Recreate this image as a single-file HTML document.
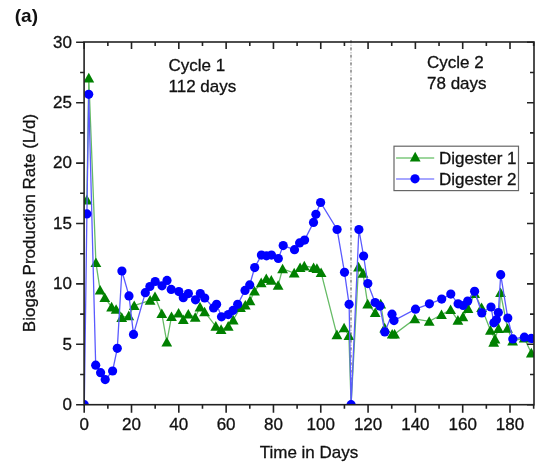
<!DOCTYPE html>
<html><head><meta charset="utf-8"><style>
html,body{margin:0;padding:0;background:#fff;}
svg{display:block;font-family:"Liberation Sans",Arial,sans-serif;}
.t{stroke:#111;stroke-width:0.3px;}
</style></head><body>
<svg width="550" height="475" viewBox="0 0 550 475">
<rect width="550" height="475" fill="#fff"/>
<defs><clipPath id="pa"><rect x="84.1" y="42.0" width="449.9" height="362.7"/></clipPath></defs>
<text x="14.8" y="22.3" font-size="19" font-weight="bold" fill="#111">(a)</text>
<line x1="351" y1="42.0" x2="351" y2="404.7" stroke="#c4c4c4" stroke-width="1.4" stroke-dasharray="1.6,0.9"/>
<line x1="351" y1="40.3" x2="351" y2="404.7" stroke="#7a7a7a" stroke-width="1.4" stroke-dasharray="2,5.5"/>
<g clip-path="url(#pa)">
<polyline points="86.9,200 88.8,78 95.9,262.6 100.1,290.1 104.8,297.6 111.6,307 116.1,309.4 121.7,317.5 128.8,315.8 134.2,305.6 150.1,300.3 155,296.7 161.8,313.7 166.8,342.1 171.5,316.7 178.6,313.1 183.3,319.7 188.3,314.2 195.2,317.4 200,307 204.6,311.9 215.8,326.3 221.1,329.5 228.2,326.3 233.2,320 240.5,307.5 245.3,305.2 250,300.8 254.5,291.2 261.2,282.8 266.3,278.6 271.3,280.3 278.1,285.4 282.6,268.9 294.2,273 300.1,267.7 304.3,266 313.6,267.7 316.9,268.5 321.1,272.7 336.9,334.8 344.1,327.9 348.9,335.7 351.1,404.7 358.5,267 363,273.3 367.7,304 375.2,312.6 380.7,304 384.7,328 392.2,334.1 394.6,334.1 414.8,318.9 429.2,321.4 441.5,314.7 450.6,309.7 457.9,320.3 462.9,316.9 468,308.5 474.7,293.7 481.6,307.7 490.4,330.3 495,339 493.7,342.3 498.5,328.6 500.5,292.6 507.5,328.4 512.6,341 524.2,338 531.3,353" fill="none" stroke="#66bb66" stroke-width="1.3"/>
<g fill="#008000"><polygon points="81.5,204.4 92.3,204.4 86.9,194.8"/><polygon points="83.4,82.4 94.2,82.4 88.8,72.8"/><polygon points="90.5,267.0 101.3,267.0 95.9,257.4"/><polygon points="94.7,294.5 105.5,294.5 100.1,284.9"/><polygon points="99.4,302.0 110.2,302.0 104.8,292.4"/><polygon points="106.2,311.4 117.0,311.4 111.6,301.8"/><polygon points="110.7,313.8 121.5,313.8 116.1,304.2"/><polygon points="116.3,321.9 127.1,321.9 121.7,312.3"/><polygon points="123.4,320.2 134.2,320.2 128.8,310.6"/><polygon points="128.8,310.0 139.6,310.0 134.2,300.4"/><polygon points="144.7,304.7 155.5,304.7 150.1,295.1"/><polygon points="149.6,301.1 160.4,301.1 155.0,291.5"/><polygon points="156.4,318.1 167.2,318.1 161.8,308.5"/><polygon points="161.4,346.5 172.2,346.5 166.8,336.9"/><polygon points="166.1,321.1 176.9,321.1 171.5,311.5"/><polygon points="173.2,317.5 184.0,317.5 178.6,307.9"/><polygon points="177.9,324.1 188.7,324.1 183.3,314.5"/><polygon points="182.9,318.6 193.7,318.6 188.3,309.0"/><polygon points="189.8,321.8 200.6,321.8 195.2,312.2"/><polygon points="194.6,311.4 205.4,311.4 200.0,301.8"/><polygon points="199.2,316.3 210.0,316.3 204.6,306.7"/><polygon points="210.4,330.7 221.2,330.7 215.8,321.1"/><polygon points="215.7,333.9 226.5,333.9 221.1,324.3"/><polygon points="222.8,330.7 233.6,330.7 228.2,321.1"/><polygon points="227.8,324.4 238.6,324.4 233.2,314.8"/><polygon points="235.1,311.9 245.9,311.9 240.5,302.3"/><polygon points="239.9,309.6 250.7,309.6 245.3,300.0"/><polygon points="244.6,305.2 255.4,305.2 250.0,295.6"/><polygon points="249.1,295.6 259.9,295.6 254.5,286.0"/><polygon points="255.8,287.2 266.6,287.2 261.2,277.6"/><polygon points="260.9,283.0 271.7,283.0 266.3,273.4"/><polygon points="265.9,284.7 276.7,284.7 271.3,275.1"/><polygon points="272.7,289.8 283.5,289.8 278.1,280.2"/><polygon points="277.2,273.3 288.0,273.3 282.6,263.7"/><polygon points="288.8,277.4 299.6,277.4 294.2,267.8"/><polygon points="294.7,272.1 305.5,272.1 300.1,262.5"/><polygon points="298.9,270.4 309.7,270.4 304.3,260.8"/><polygon points="308.2,272.1 319.0,272.1 313.6,262.5"/><polygon points="311.5,272.9 322.3,272.9 316.9,263.3"/><polygon points="315.7,277.1 326.5,277.1 321.1,267.5"/><polygon points="331.5,339.2 342.3,339.2 336.9,329.6"/><polygon points="338.7,332.3 349.5,332.3 344.1,322.7"/><polygon points="343.5,340.1 354.3,340.1 348.9,330.5"/><polygon points="345.7,409.1 356.5,409.1 351.1,399.5"/><polygon points="353.1,271.4 363.9,271.4 358.5,261.8"/><polygon points="357.6,277.7 368.4,277.7 363.0,268.1"/><polygon points="362.3,308.4 373.1,308.4 367.7,298.8"/><polygon points="369.8,317.0 380.6,317.0 375.2,307.4"/><polygon points="375.3,308.4 386.1,308.4 380.7,298.8"/><polygon points="379.3,332.4 390.1,332.4 384.7,322.8"/><polygon points="386.8,338.5 397.6,338.5 392.2,328.9"/><polygon points="389.2,338.5 400.0,338.5 394.6,328.9"/><polygon points="409.4,323.3 420.2,323.3 414.8,313.7"/><polygon points="423.8,325.8 434.6,325.8 429.2,316.2"/><polygon points="436.1,319.1 446.9,319.1 441.5,309.5"/><polygon points="445.2,314.1 456.0,314.1 450.6,304.5"/><polygon points="452.5,324.7 463.3,324.7 457.9,315.1"/><polygon points="457.5,321.3 468.3,321.3 462.9,311.7"/><polygon points="462.6,312.9 473.4,312.9 468.0,303.3"/><polygon points="469.3,298.1 480.1,298.1 474.7,288.5"/><polygon points="476.2,312.1 487.0,312.1 481.6,302.5"/><polygon points="485.0,334.7 495.8,334.7 490.4,325.1"/><polygon points="489.6,343.4 500.4,343.4 495.0,333.8"/><polygon points="488.3,346.7 499.1,346.7 493.7,337.1"/><polygon points="493.1,333.0 503.9,333.0 498.5,323.4"/><polygon points="495.1,297.0 505.9,297.0 500.5,287.4"/><polygon points="502.1,332.8 512.9,332.8 507.5,323.2"/><polygon points="507.2,345.4 518.0,345.4 512.6,335.8"/><polygon points="518.8,342.4 529.6,342.4 524.2,332.8"/><polygon points="525.9,357.4 536.7,357.4 531.3,347.8"/></g>
<polyline points="84.3,404.7 86.9,213.9 88.7,94.30000000000001 95.7,365.2 100.60000000000001,372.7 105.2,379.59999999999997 112.60000000000001,371.0 117.3,348.29999999999995 121.9,271.0 129.0,295.9 133.5,334.4 145.29999999999998,292.7 149.89999999999998,286.5 155.2,281.5 162.0,285.79999999999995 167.0,280.4 171.2,289.4 178.79999999999998,291.59999999999997 183.29999999999998,297.7 188.39999999999998,293.59999999999997 195.5,299.79999999999995 200.29999999999998,293.5 204.7,298.0 213.6,307.9 216.6,304.29999999999995 221.5,316.79999999999995 228.29999999999998,314.59999999999997 233.0,310.4 237.7,304.29999999999995 245.0,290.4 249.7,284.9 254.7,267.59999999999997 261.4,255.1 266.5,255.8 271.5,255.1 278.3,258.5 283.2,245.6 294.5,249.70000000000002 299.59999999999997,242.9 304.59999999999997,240.1 313.5,222.4 315.9,214.3 320.59999999999997,202.5 337.09999999999997,229.5 344.5,272.29999999999995 349.09999999999997,304.29999999999995 351.1,404.7 358.9,229.5 363.59999999999997,256.0 367.8,283.59999999999997 375.09999999999997,302.5 379.9,306.09999999999997 384.8,331.9 392.0,314.2 394.0,320.59999999999997 415.5,309.2 429.4,303.79999999999995 441.7,299.09999999999997 450.8,294.09999999999997 458.09999999999997,303.79999999999995 463.09999999999997,305.5 467.7,301.09999999999997 474.59999999999997,291.29999999999995 481.8,312.9 491.0,307.0 493.9,322.79999999999995 496.4,319.79999999999995 498.3,312.5 500.7,274.7 507.8,318.0 512.8000000000001,338.9 524.4000000000001,337.2 531.3000000000001,338.4" fill="none" stroke="#5a5aff" stroke-width="1.3"/>
<g fill="#0000ff"><circle cx="84.3" cy="404.7" r="4.6"/><circle cx="86.9" cy="213.9" r="4.6"/><circle cx="88.7" cy="94.30000000000001" r="4.6"/><circle cx="95.7" cy="365.2" r="4.6"/><circle cx="100.60000000000001" cy="372.7" r="4.6"/><circle cx="105.2" cy="379.59999999999997" r="4.6"/><circle cx="112.60000000000001" cy="371.0" r="4.6"/><circle cx="117.3" cy="348.29999999999995" r="4.6"/><circle cx="121.9" cy="271.0" r="4.6"/><circle cx="129.0" cy="295.9" r="4.6"/><circle cx="133.5" cy="334.4" r="4.6"/><circle cx="145.29999999999998" cy="292.7" r="4.6"/><circle cx="149.89999999999998" cy="286.5" r="4.6"/><circle cx="155.2" cy="281.5" r="4.6"/><circle cx="162.0" cy="285.79999999999995" r="4.6"/><circle cx="167.0" cy="280.4" r="4.6"/><circle cx="171.2" cy="289.4" r="4.6"/><circle cx="178.79999999999998" cy="291.59999999999997" r="4.6"/><circle cx="183.29999999999998" cy="297.7" r="4.6"/><circle cx="188.39999999999998" cy="293.59999999999997" r="4.6"/><circle cx="195.5" cy="299.79999999999995" r="4.6"/><circle cx="200.29999999999998" cy="293.5" r="4.6"/><circle cx="204.7" cy="298.0" r="4.6"/><circle cx="213.6" cy="307.9" r="4.6"/><circle cx="216.6" cy="304.29999999999995" r="4.6"/><circle cx="221.5" cy="316.79999999999995" r="4.6"/><circle cx="228.29999999999998" cy="314.59999999999997" r="4.6"/><circle cx="233.0" cy="310.4" r="4.6"/><circle cx="237.7" cy="304.29999999999995" r="4.6"/><circle cx="245.0" cy="290.4" r="4.6"/><circle cx="249.7" cy="284.9" r="4.6"/><circle cx="254.7" cy="267.59999999999997" r="4.6"/><circle cx="261.4" cy="255.1" r="4.6"/><circle cx="266.5" cy="255.8" r="4.6"/><circle cx="271.5" cy="255.1" r="4.6"/><circle cx="278.3" cy="258.5" r="4.6"/><circle cx="283.2" cy="245.6" r="4.6"/><circle cx="294.5" cy="249.70000000000002" r="4.6"/><circle cx="299.59999999999997" cy="242.9" r="4.6"/><circle cx="304.59999999999997" cy="240.1" r="4.6"/><circle cx="313.5" cy="222.4" r="4.6"/><circle cx="315.9" cy="214.3" r="4.6"/><circle cx="320.59999999999997" cy="202.5" r="4.6"/><circle cx="337.09999999999997" cy="229.5" r="4.6"/><circle cx="344.5" cy="272.29999999999995" r="4.6"/><circle cx="349.09999999999997" cy="304.29999999999995" r="4.6"/><circle cx="351.1" cy="404.7" r="4.6"/><circle cx="358.9" cy="229.5" r="4.6"/><circle cx="363.59999999999997" cy="256.0" r="4.6"/><circle cx="367.8" cy="283.59999999999997" r="4.6"/><circle cx="375.09999999999997" cy="302.5" r="4.6"/><circle cx="379.9" cy="306.09999999999997" r="4.6"/><circle cx="384.8" cy="331.9" r="4.6"/><circle cx="392.0" cy="314.2" r="4.6"/><circle cx="394.0" cy="320.59999999999997" r="4.6"/><circle cx="415.5" cy="309.2" r="4.6"/><circle cx="429.4" cy="303.79999999999995" r="4.6"/><circle cx="441.7" cy="299.09999999999997" r="4.6"/><circle cx="450.8" cy="294.09999999999997" r="4.6"/><circle cx="458.09999999999997" cy="303.79999999999995" r="4.6"/><circle cx="463.09999999999997" cy="305.5" r="4.6"/><circle cx="467.7" cy="301.09999999999997" r="4.6"/><circle cx="474.59999999999997" cy="291.29999999999995" r="4.6"/><circle cx="481.8" cy="312.9" r="4.6"/><circle cx="491.0" cy="307.0" r="4.6"/><circle cx="493.9" cy="322.79999999999995" r="4.6"/><circle cx="496.4" cy="319.79999999999995" r="4.6"/><circle cx="498.3" cy="312.5" r="4.6"/><circle cx="500.7" cy="274.7" r="4.6"/><circle cx="507.8" cy="318.0" r="4.6"/><circle cx="512.8000000000001" cy="338.9" r="4.6"/><circle cx="524.4000000000001" cy="337.2" r="4.6"/><circle cx="531.3000000000001" cy="338.4" r="4.6"/></g>
</g>
<rect x="84.1" y="42.0" width="449.9" height="362.7" fill="none" stroke="#222" stroke-width="1.6"/>
<path d="M84.20,404.7v8M84.20,42.0v7M107.86,404.7v4M107.86,42.0v4M131.51,404.7v8M131.51,42.0v7M155.17,404.7v4M155.17,42.0v4M178.82,404.7v8M178.82,42.0v7M202.48,404.7v4M202.48,42.0v4M226.14,404.7v8M226.14,42.0v7M249.79,404.7v4M249.79,42.0v4M273.45,404.7v8M273.45,42.0v7M297.10,404.7v4M297.10,42.0v4M320.76,404.7v8M320.76,42.0v7M344.42,404.7v4M344.42,42.0v4M368.07,404.7v8M368.07,42.0v7M391.73,404.7v4M391.73,42.0v4M415.38,404.7v8M415.38,42.0v7M439.04,404.7v4M439.04,42.0v4M462.70,404.7v8M462.70,42.0v7M486.35,404.7v4M486.35,42.0v4M510.01,404.7v8M510.01,42.0v7M533.66,404.7v4M533.66,42.0v4M84.1,404.70h-8M534.0,404.70h-7M84.1,374.50h-4M534.0,374.50h-4M84.1,344.30h-8M534.0,344.30h-7M84.1,314.10h-4M534.0,314.10h-4M84.1,283.90h-8M534.0,283.90h-7M84.1,253.70h-4M534.0,253.70h-4M84.1,223.50h-8M534.0,223.50h-7M84.1,193.30h-4M534.0,193.30h-4M84.1,163.10h-8M534.0,163.10h-7M84.1,132.90h-4M534.0,132.90h-4M84.1,102.70h-8M534.0,102.70h-7M84.1,72.50h-4M534.0,72.50h-4M84.1,42.30h-8M534.0,42.30h-7" stroke="#222" stroke-width="1.6" fill="none"/>
<g class="t" font-size="17" fill="#111" text-anchor="middle"><text x="84.2" y="429.5">0</text><text x="131.5" y="429.5">20</text><text x="178.8" y="429.5">40</text><text x="226.1" y="429.5">60</text><text x="273.4" y="429.5">80</text><text x="320.8" y="429.5">100</text><text x="368.1" y="429.5">120</text><text x="415.4" y="429.5">140</text><text x="462.7" y="429.5">160</text><text x="510.0" y="429.5">180</text></g>
<g class="t" font-size="17" fill="#111" text-anchor="end"><text x="72" y="409.9">0</text><text x="72" y="349.5">5</text><text x="72" y="289.1">10</text><text x="72" y="228.7">15</text><text x="72" y="168.3">20</text><text x="72" y="107.9">25</text><text x="72" y="47.5">30</text></g>
<text class="t" x="309" y="458.1" font-size="17" fill="#111" text-anchor="middle">Time in Days</text>
<text class="t" transform="translate(34.6,223) rotate(-90)" font-size="17" fill="#111" text-anchor="middle">Biogas Production Rate (L/d)</text>
<g class="t" font-size="17" fill="#111">
<text x="168.5" y="70.5">Cycle 1</text><text x="168.5" y="91.5">112 days</text>
<text x="427" y="68.3">Cycle 2</text><text x="427" y="89.2">78 days</text>
</g>
<rect x="394" y="146.2" width="124.5" height="44.4" fill="#fff" stroke="#666" stroke-width="1.2"/>
<line x1="396.1" y1="158.1" x2="434.2" y2="158.1" stroke="#7cc87c" stroke-width="1.5"/>
<g fill="#008000"><polygon points="409.8,161.4 420.6,161.4 415.2,151.8"/></g>
<line x1="396.1" y1="179.1" x2="434.2" y2="179.1" stroke="#8888ff" stroke-width="1.5"/>
<circle cx="415" cy="178.8" r="4.6" fill="#0000ff"/>
<g class="t" font-size="17" fill="#111">
<text x="439" y="163.6">Digester 1</text><text x="439" y="184.6">Digester 2</text>
</g>
</svg>
</body></html>
